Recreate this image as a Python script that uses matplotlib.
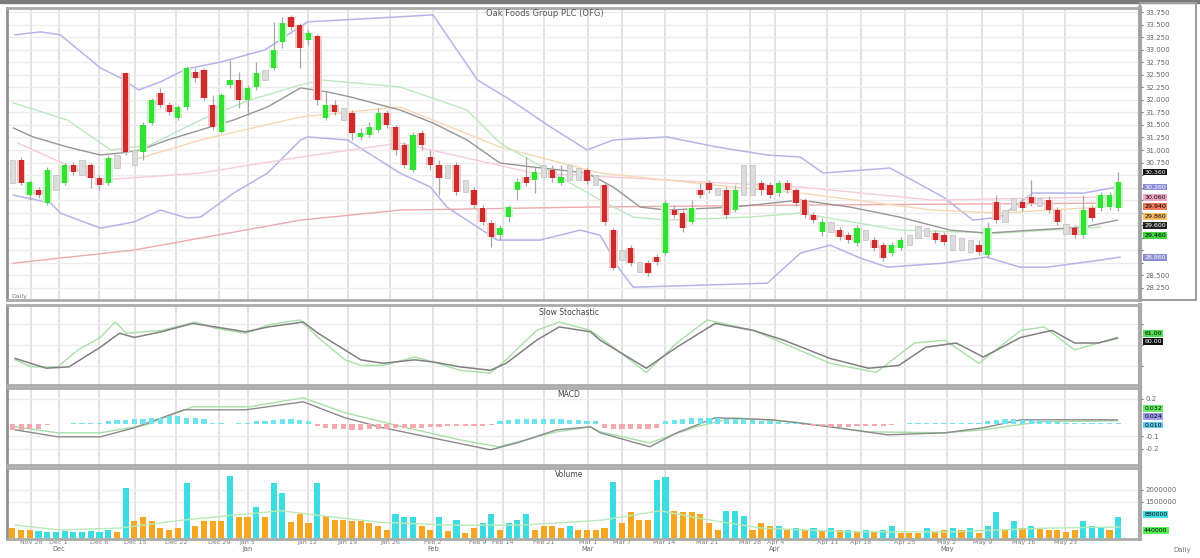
import matplotlib.pyplot as plt
import numpy as np
from matplotlib.patches import Rectangle

# daily OHLC in pence
opens = [3057, 3080, 3010, 3020, 2994, 3035, 3034, 3070, 3065, 3070,
         3044, 3034, 3077, 3254, 3085, 3096, 3154, 3214, 3190, 3164,
         3186, 3256, 3260, 3190, 3136, 3230, 3240, 3200, 3226, 3250,
         3264, 3316, 3366, 3350, 3320, 3328, 3164, 3190, 3172, 3174,
         3126, 3130, 3140, 3174, 3146, 3110, 3060, 3134, 3086, 3070,
         3057, 3070, 3028, 3020, 2984, 2954, 2930, 2966, 3020, 3046,
         3040, 3058, 3060, 3034, 3055, 3052, 3060, 3040, 3030, 2940,
         2890, 2904, 2866, 2874, 2886, 2894, 2980, 2974, 2956, 3020,
         3034, 3017, 3020, 2980, 3025, 3020, 3034, 3030, 3014, 3034,
         3020, 3000, 2970, 2936, 2946, 2940, 2930, 2914, 2930, 2920,
         2910, 2894, 2904, 2920, 2936, 2936, 2934, 2930, 2915, 2912,
         2908, 2910, 2890, 2996, 2968, 2992, 2996, 3006, 2996, 3000,
         2980, 2942, 2944, 2930, 2984, 2984, 2986, 2984]
highs = [3080, 3086, 3040, 3026, 3066, 3050, 3074, 3076, 3080, 3074,
         3050, 3090, 3090, 3256, 3100, 3156, 3204, 3224, 3196, 3190,
         3268, 3264, 3264, 3210, 3214, 3280, 3256, 3230, 3276, 3260,
         3356, 3366, 3370, 3354, 3340, 3332, 3216, 3200, 3184, 3180,
         3144, 3156, 3184, 3180, 3150, 3116, 3136, 3140, 3100, 3080,
         3070, 3076, 3040, 3026, 2990, 2960, 2950, 2990, 3044, 3086,
         3066, 3070, 3070, 3070, 3070, 3064, 3064, 3050, 3036, 2944,
         2900, 2910, 2876, 2880, 2892, 3000, 2990, 2980, 3000, 3034,
         3040, 3024, 3026, 3030, 3070, 3070, 3040, 3036, 3040, 3040,
         3024, 3004, 2976, 2964, 2956, 2946, 2936, 2950, 2940, 2926,
         2916, 2916, 2926, 2930, 2948, 2944, 2940, 2936, 2930, 2924,
         2920, 2920, 2956, 3010, 2980, 3004, 3004, 3040, 3004, 3008,
         2986, 2952, 2950, 3010, 2990, 3016, 3016, 3056]
lows = [3034, 3030, 3000, 3004, 2990, 3020, 3030, 3050, 3050, 3024,
        3020, 3030, 3064, 3090, 3070, 3080, 3150, 3184, 3170, 3160,
        3180, 3236, 3200, 3140, 3134, 3224, 3184, 3170, 3220, 3240,
        3260, 3304, 3340, 3264, 3310, 3190, 3160, 3170, 3160, 3120,
        3120, 3126, 3136, 3144, 3090, 3064, 3056, 3100, 3060, 3010,
        3044, 3010, 3016, 2984, 2950, 2906, 2920, 2956, 3000, 3028,
        3014, 3046, 3036, 3030, 3040, 3040, 3032, 3030, 2950, 2860,
        2880, 2868, 2856, 2848, 2870, 2890, 2964, 2936, 2952, 3004,
        3014, 3010, 2964, 2976, 3010, 3010, 3010, 3004, 3008, 3014,
        2988, 2964, 2954, 2928, 2936, 2920, 2914, 2908, 2920, 2898,
        2878, 2888, 2900, 2910, 2924, 2928, 2914, 2910, 2900, 2900,
        2896, 2890, 2884, 2954, 2956, 2980, 2978, 2988, 2988, 2974,
        2950, 2932, 2924, 2924, 2958, 2978, 2980, 2978]
closes = [3057, 3034, 3036, 3010, 3060, 3035, 3070, 3056, 3065, 3044,
          3030, 3084, 3077, 3096, 3085, 3150, 3200, 3190, 3176, 3186,
          3264, 3244, 3204, 3146, 3210, 3240, 3200, 3224, 3254, 3250,
          3300, 3354, 3346, 3304, 3334, 3200, 3190, 3176, 3172, 3134,
          3134, 3146, 3174, 3150, 3100, 3070, 3130, 3110, 3070, 3044,
          3057, 3016, 3028, 2990, 2956, 2926, 2944, 2986, 3036, 3034,
          3056, 3058, 3044, 3046, 3055, 3052, 3038, 3040, 2956, 2864,
          2890, 2874, 2866, 2854, 2876, 2994, 2970, 2944, 2984, 3010,
          3020, 3017, 2970, 3020, 3025, 3020, 3020, 3010, 3034, 3020,
          2994, 2970, 2960, 2956, 2946, 2926, 2920, 2944, 2930, 2904,
          2884, 2910, 2920, 2920, 2936, 2936, 2920, 2916, 2915, 2912,
          2908, 2896, 2944, 2960, 2968, 2992, 2984, 2994, 2996, 2980,
          2956, 2942, 2930, 2980, 2964, 3010, 3010, 3036]

# volume in thousands, flag 1 = buy-side (cyan) bar
volumes = [400, 320, 320, 280, 240, 240, 280, 240, 240, 280,
           240, 320, 240, 2080, 680, 880, 680, 400, 320, 400,
           2280, 480, 680, 680, 680, 2560, 880, 880, 1280, 880,
           2280, 1880, 640, 1000, 600, 2280, 920, 720, 720, 680,
           680, 600, 480, 320, 1000, 880, 880, 480, 320, 880,
           280, 720, 200, 400, 600, 1000, 320, 600, 720, 1000,
           320, 480, 480, 400, 480, 320, 320, 320, 400, 2320,
           600, 1080, 720, 720, 2400, 2520, 1120, 1080, 1080, 1000,
           600, 320, 1120, 1120, 920, 320, 600, 480, 480, 320,
           400, 320, 400, 320, 400, 320, 320, 240, 320, 240,
           320, 480, 200, 200, 200, 400, 240, 320, 400, 320,
           400, 200, 480, 1080, 320, 680, 400, 480, 400, 320,
           320, 240, 320, 680, 480, 400, 320, 880]
vol_buy = [0, 0, 0, 1, 1, 1, 1, 1, 1, 1,
           1, 1, 0, 1, 0, 0, 0, 0, 0, 0,
           1, 0, 0, 0, 0, 1, 0, 0, 1, 0,
           1, 1, 0, 0, 0, 1, 0, 0, 0, 0,
           0, 0, 0, 0, 1, 1, 1, 0, 0, 1,
           0, 1, 0, 0, 1, 1, 0, 1, 1, 1,
           0, 0, 0, 0, 1, 0, 0, 0, 0, 1,
           0, 0, 0, 0, 1, 1, 0, 0, 0, 0,
           0, 0, 1, 1, 1, 0, 0, 0, 1, 0,
           1, 0, 1, 0, 1, 0, 1, 0, 1, 0,
           1, 1, 0, 0, 0, 1, 0, 0, 1, 0,
           1, 0, 1, 1, 0, 1, 0, 1, 0, 0,
           0, 0, 0, 1, 1, 1, 0, 1]
vol_ma_x = [0.3, 5.5, 12.4, 19.3, 25.0, 30.8, 35.4, 42.2, 50.3, 58.3, 67.5, 74.4, 79.0, 85.9, 96.2, 107.7, 119.2, 127.2]
vol_ma = [520, 320, 400, 720, 920, 1120, 920, 640, 520, 520, 720, 1120, 800, 400, 240, 240, 400, 440]

# overlays on the price panel (day index, pence)
bb_up_x = [0.3, 3.2, 5.5, 10.1, 12.4, 14.5, 17.0, 20.0, 24.0, 29.0, 33.9, 44.5, 48.3, 53.4, 57.2,
           61.8, 66.0, 69.0, 75.2, 80.9, 86.7, 90.5, 93.1, 100.8, 106.9, 110.3, 113.4, 117.2, 123.0, 126.9]
bb_up = [3330, 3336, 3330, 3264, 3244, 3220, 3236, 3262, 3276, 3300, 3356, 3366, 3370, 3240, 3200,
         3146, 3100, 3120, 3126, 3106, 3090, 3086, 3054, 3064, 3006, 2960, 2966, 3014, 3014, 3026]
bb_mid_x = [0.1, 2.4, 6.3, 10.1, 12.4, 14.7, 17.8, 21.6, 25.4, 29.3, 33.1, 36.2, 38.8, 44.5, 48.3, 52.2,
            56.0, 59.8, 66.0, 69.0, 72.1, 75.2, 82.8, 90.5, 96.2, 101.9, 107.7, 111.9, 117.2, 123.0, 126.9]
bb_mid = [3144, 3126, 3106, 3090, 3094, 3100, 3120, 3140, 3160, 3186, 3224, 3216, 3206, 3180, 3154, 3120,
          3074, 3066, 3054, 3026, 2986, 2980, 2986, 3000, 2986, 2966, 2940, 2934, 2940, 2946, 2960]
bb_low_x = [0.1, 4.4, 5.5, 10.1, 13.9, 17.0, 20.1, 21.6, 25.4, 29.3, 33.1, 33.9, 38.5, 44.5, 48.0, 49.9, 55.7,
            60.6, 65.2, 67.5, 69.8, 71.3, 86.7, 90.5, 93.9, 97.4, 100.5, 106.9, 111.9, 115.7, 118.8, 124.9, 127.2]
bb_low = [3010, 2994, 2974, 2944, 2956, 2980, 2964, 2966, 3014, 3054, 3120, 3126, 3120, 3054, 3026, 2986, 2920,
          2920, 2940, 2930, 2860, 2826, 2834, 2894, 2910, 2884, 2866, 2874, 2886, 2866, 2866, 2880, 2886]
ma_green_x = [0.1, 6.3, 11.3, 15.8, 21.6, 27.3, 33.1, 35.4, 44.5, 52.2, 56.0, 67.5, 71.3, 75.2, 84.7, 90.5, 101.9, 113.4, 124.9]
ma_green = [3194, 3160, 3100, 3110, 3160, 3200, 3230, 3240, 3226, 3180, 3114, 3000, 2966, 2960, 2966, 2974, 2940, 2934, 2946]
ma_orange_x = [13.9, 21.6, 33.1, 44.5, 56.0, 67.5, 82.8, 90.5, 105.7, 113.4, 124.9]
ma_orange = [3080, 3120, 3166, 3186, 3106, 3054, 3026, 3014, 2980, 2974, 2986]
ma_pink_x = [0.6, 10.1, 21.6, 33.1, 44.5, 59.8, 75.2, 90.5, 105.7, 124.9]
ma_pink = [3114, 3040, 3054, 3086, 3114, 3054, 3040, 3026, 3000, 3006]
ma200_x = [0.1, 13.9, 33.1, 44.5, 66.0, 90.5, 126.9]
ma200 = [2874, 2900, 2960, 2980, 2986, 2990, 2994]

# slow stochastic
stoch_k_x = [0.3, 3.9, 6.5, 10.1, 12.3, 14.0, 17.1, 20.7, 23.3, 26.8, 29.4, 33.4, 35.1, 38.2, 40.0, 42.6, 46.2,
             48.3, 51.4, 54.9, 56.7, 60.2, 62.8, 66.4, 67.5, 72.8, 76.3, 80.7, 85.1, 88.6, 93.9, 98.3, 101.8,
             104.9, 108.4, 111.5, 115.8, 119.4, 122.0, 124.7, 126.9]
stoch_k = [31, 17, 19, 47, 67, 61, 69, 81, 76, 69, 76, 83, 67, 43, 29, 24, 29, 26, 19, 14, 24,
           57, 76, 69, 57, 17, 47, 81, 71, 57, 31, 17, 21, 47, 53, 33, 61, 71, 53, 53, 60]
stoch_d_x = [0.3, 2.2, 5.2, 7.5, 10.1, 11.8, 13.1, 17.1, 21.0, 23.3, 26.8, 29.4, 33.0, 35.1, 38.2, 40.0, 42.6,
             46.2, 48.3, 51.4, 54.9, 56.7, 60.2, 62.8, 66.4, 67.5, 72.8, 76.3, 79.8, 85.1, 93.9, 99.2, 103.6,
             107.1, 111.0, 115.8, 118.5, 122.0, 124.7, 126.9]
stoch_d = [29, 19, 19, 43, 61, 83, 67, 71, 83, 74, 67, 79, 86, 61, 29, 21, 21, 33, 26, 14,
           10, 29, 71, 83, 71, 61, 11, 53, 86, 71, 24, 11, 53, 57, 24, 71, 76, 43, 53, 61]

# MACD
macd_x = [0.3, 5.2, 10.1, 14.0, 19.7, 26.8, 33.4, 38.2, 42.6, 49.3, 54.9, 58.0, 62.5,
          66.4, 67.5, 73.2, 76.3, 80.7, 87.3, 93.9, 100.5, 107.1, 111.5, 115.8, 122.5, 126.9]
macd = [-0.048, -0.104, -0.104, -0.032, 0.112, 0.112, 0.176, 0.048, -0.032, -0.128, -0.208, -0.152, -0.048,
        -0.024, -0.072, -0.184, -0.072, 0.048, 0.032, -0.024, -0.088, -0.072, -0.032, 0.032, 0.032, 0.032]
signal_x = [0.3, 5.2, 10.1, 15.4, 20.7, 27.2, 33.4, 38.2, 44.8, 51.4, 55.8, 62.5, 66.4, 67.5, 73.2,
            78.5, 82.9, 89.6, 98.3, 107.1, 111.5, 118.0, 126.9]
signal = [-0.024, -0.072, -0.072, -0.008, 0.136, 0.136, 0.208, 0.088, -0.024, -0.128, -0.184, -0.064,
          -0.024, -0.064, -0.152, -0.024, 0.048, 0.016, -0.064, -0.072, -0.048, 0.016, 0.024]
macd_hist = [-0.05, -0.05, -0.045, -0.04,
             -0.01, -0.005, 0.0, 0.005, 0.005, 0.01, 0.01,
             0.02, 0.03, 0.03, 0.035, 0.04, 0.05, 0.05, 0.06, 0.06, 0.05, 0.045, 0.04,
             0.01, 0.005, 0.0, 0.005, 0.01, 0.02, 0.025,
             0.03, 0.035, 0.035, 0.03, 0.02,
             -0.02, -0.03, -0.04, -0.045, -0.05, -0.05, -0.045, -0.04, -0.04, -0.035, -0.035,
             -0.03, -0.03, -0.025, -0.025, -0.02, -0.02, -0.02, -0.02, -0.015, -0.01,
             0.02, 0.03, 0.035, 0.04, 0.04, 0.04, 0.035, 0.035, 0.03, 0.03, 0.025, 0.02,
             -0.03, -0.04, -0.045, -0.045, -0.04, -0.04, -0.035,
             0.02, 0.03, 0.04, 0.045, 0.05, 0.05, 0.045, 0.04, 0.04, 0.035, 0.03, 0.025, 0.02, 0.015, 0.01, 0.005,
             -0.01, -0.015, -0.02, -0.025, -0.025, -0.025, -0.02, -0.02, -0.015, -0.015, -0.01, -0.005,
             0.01, 0.01, 0.01, 0.01, 0.01, 0.01, 0.01, 0.01, 0.01,
             0.02, 0.03, 0.035, 0.035, 0.03, 0.03, 0.025, 0.02, 0.015,
             0.005, 0.005, 0.01, 0.01, 0.01, 0.01, 0.01]

week_ticks = [2.1, 5.3, 10.0, 14.1, 18.8, 23.7, 27.0, 33.9, 38.5, 43.4, 48.3, 53.4, 56.3, 61.0,
              66.1, 70.0, 74.9, 79.8, 84.7, 87.6, 93.6, 97.4, 102.5, 107.3, 111.4, 116.1, 120.9]
week_labels = ["Nov 28", "Dec 1", "Dec 8", "Dec 15", "Dec 22", "Dec 29", "Jan 5", "Jan 12", "Jan 19",
               "Jan 26", "Feb 2", "Feb 9", "Feb 14", "Feb 21", "Mar 1", "Mar 7", "Mar 14", "Mar 21",
               "Mar 28", "Apr 4", "Apr 11", "Apr 18", "Apr 25", "May 2", "May 9", "May 16", "May 23"]
month_pos = [5.3, 27.0, 48.3, 66.1, 87.6, 107.3]
month_names = ["Dec", "Jan", "Feb", "Mar", "Apr", "May"]

o = np.array(opens)
h = np.array(highs)
l = np.array(lows)
c = np.array(closes)
x = np.arange(len(c))
up = c > o
dn = c < o
flat = c == o

fig = plt.figure(figsize=(12, 5.58), dpi=100)
L, W = 0.006, 0.944
ax = fig.add_axes([L, 0.462, W, 0.524])
ax_st = fig.add_axes([L, 0.310, W, 0.143], sharex=ax)
ax_md = fig.add_axes([L, 0.167, W, 0.138], sharex=ax)
ax_v = fig.add_axes([L, 0.034, W, 0.127], sharex=ax)

for a in (ax, ax_st, ax_md, ax_v):
    for s in a.spines.values():
        s.set_color('#aaaaaa')
        s.set_linewidth(2)
    a.spines['right'].set_linewidth(3)
    a.spines['left'].set_color('#909090')
    a.yaxis.tick_right()
    a.tick_params(axis='y', labelsize=5, colors='#666666', length=2, pad=2)
    a.tick_params(axis='x', length=0)
    a.set_xticks(week_ticks)
    a.grid(axis='x', color='#e0e0e0', lw=1.3)
    a.grid(axis='y', color='#ececec', lw=1.0)
    a.set_axisbelow(True)
for a in (ax, ax_st, ax_md):
    a.tick_params(labelbottom=False)
ax.set_xlim(-0.6, 129.5)

# price panel
ax.plot(bb_up_x, bb_up, color='#b4b4ea', lw=1.1, zorder=1)
ax.plot(bb_low_x, bb_low, color='#b4b4ea', lw=1.1, zorder=1)
ax.plot(ma200_x, ma200, color='#eeaaaa', lw=1.0, zorder=1)
ax.plot(ma_pink_x, ma_pink, color='#f5ccd6', lw=1.0, zorder=1)
ax.plot(ma_orange_x, ma_orange, color='#f6d8b0', lw=1.0, zorder=1)
ax.plot(ma_green_x, ma_green, color='#bce8bc', lw=1.0, zorder=1)
ax.plot(bb_mid_x, bb_mid, color='#969696', lw=1.0, zorder=1)

ax.vlines(x, l, h, color='#a8a8a8', lw=0.9, zorder=2)
ax.bar(x[flat], (h - l)[flat], bottom=l[flat], width=0.6, color='#dcdcdc', edgecolor='#c0c0c0', lw=0.5, zorder=3)
ax.bar(x[up], (c - o)[up], bottom=o[up], width=1.0, color='#c8f7c8', zorder=3)
ax.bar(x[up], (c - o)[up], bottom=o[up], width=0.6, color='#33e033', zorder=4)
ax.bar(x[dn], (c - o)[dn], bottom=o[dn], width=1.0, color='#f7c8c8', zorder=3)
ax.bar(x[dn], (c - o)[dn], bottom=o[dn], width=0.6, color='#cc2c2c', zorder=4)

ax.set_ylim(2800, 3384)
ax.text(0.475, 0.995, 'Oak Foods Group PLC (OFG)', transform=ax.transAxes, ha='center', va='top',
        fontsize=6, color='#555555')
ax.text(0.004, 0.008, 'Daily', transform=ax.transAxes, fontsize=4.5, color='#777777')


def tag(a, y, text, fc, tc='black'):
    a.annotate(text, xy=(1.0, y), xycoords=('axes fraction', 'data'), xytext=(3, 0),
               textcoords='offset points', fontsize=4.5, va='center', ha='left', color=tc,
               bbox=dict(boxstyle='square,pad=0.15', fc=fc, ec='none'), annotation_clip=False, zorder=10)


main_tags = [(bb_up[-1], '#8c8cd8', 'white'), (closes[-1], '#111111', 'white'),
             (ma_pink[-1], '#f2a6c6', 'black'), (ma200[-1], '#f07a5a', 'black'),
             (ma_orange[-1], '#f6bc64', 'black'), (bb_mid[-1], '#222222', 'white'),
             (ma_green[-1], '#44d444', 'black'), (bb_low[-1], '#8c8cd8', 'white')]
tag_pos = []
prev = None
for v, fc, tc in sorted(main_tags, key=lambda t: -t[0]):
    pos = v + 20 if prev is None else min(v, prev - 19)
    prev = pos
    tag_pos.append(pos)
    tag(ax, pos, f'{v / 100:.3f}', fc, tc)

# price ticks, leaving room for the tags
pt = np.arange(2825, 3384, 25)
ax.set_yticks(pt)
ax.set_yticklabels(['' if min(tag_pos) - 18 < v < max(tag_pos) + 18 else f'{v / 100:.3f}' for v in pt])

# stochastic panel
ax_st.plot(stoch_d_x, stoch_d, color='#a6e0a6', lw=1.0)
ax_st.plot(stoch_k_x, stoch_k, color='#808080', lw=1.1)
ax_st.set_ylim(-7, 107)
ax_st.set_yticks([20, 50, 80])
ax_st.set_yticklabels([])
ax_st.text(0.496, 0.97, 'Slow Stochastic', transform=ax_st.transAxes, ha='center', va='top',
           fontsize=5.5, color='#444444')
tag(ax_st, stoch_d[-1] + 5, f'{stoch_d[-1]:.2f}', '#55dd55')
tag(ax_st, stoch_k[-1] - 5, f'{stoch_k[-1]:.2f}', '#111111', 'white')

# MACD panel
hist = np.array(macd_hist)
ax_md.bar(x, hist, width=0.6, color=np.where(hist >= 0, '#70e4ec', '#f4a8b0'), zorder=3)
ax_md.plot(signal_x, signal, color='#a6e0a6', lw=1.0)
ax_md.plot(macd_x, macd, color='#8a8a8a', lw=1.0)
ax_md.set_ylim(-0.328, 0.288)
ax_md.set_yticks([0.2, -0.1, -0.2])
ax_md.set_yticklabels(['0.2', '-0.1', '-0.2'])
ax_md.text(0.496, 0.97, 'MACD', transform=ax_md.transAxes, ha='center', va='top',
           fontsize=5.5, color='#444444')
tag(ax_md, 0.12, f'{macd[-1]:.3f}', '#66ee66')
tag(ax_md, 0.055, f'{signal[-1]:.3f}', '#9c9cec')
tag(ax_md, -0.01, f'{macd_hist[-1]:.3f}', '#66ccee')

# volume panel
vb = np.array(vol_buy) == 1
ax_v.bar(x, volumes, width=0.7, color=np.where(vb, '#3cdce0', '#f5a623'), zorder=3)
ax_v.plot(vol_ma_x, vol_ma, color='#b8eab8', lw=1.0, zorder=4)
ax_v.set_ylim(-60, 2900)
ax_v.set_yticks([1500, 2000])
ax_v.set_yticklabels(['1500000', '2000000'])
ax_v.text(0.496, 0.97, 'Volume', transform=ax_v.transAxes, ha='center', va='top',
          fontsize=5.5, color='#444444')
tag(ax_v, volumes[-1] + 80, f'{volumes[-1] * 1000}', '#44dde4')
tag(ax_v, vol_ma[-1] - 160, f'{vol_ma[-1] * 1000}', '#55ee55')
ax_v.set_xticklabels(week_labels, fontsize=4.6, color='#777777')
ax_v.tick_params(axis='x', pad=1)
for p, m in zip(month_pos, month_names):
    ax_v.text(p, -0.105, m, transform=ax_v.get_xaxis_transform(), ha='center', va='top',
              fontsize=4.8, color='#666666')
fig.text(0.985, 0.01, 'Daily', ha='center', fontsize=5, color='#777777')

# frame pieces
fig.add_artist(Rectangle((0, 0.994), 1, 0.006, transform=fig.transFigure, color='#7a7a7a'))
fig.add_artist(Rectangle((L + W, 0.462), 0.997 - L - W, 0.532, transform=fig.transFigure,
                         fill=False, ec='#a0a0a0', lw=1.5))

fig.savefig('out.png', dpi=100, facecolor='white')
